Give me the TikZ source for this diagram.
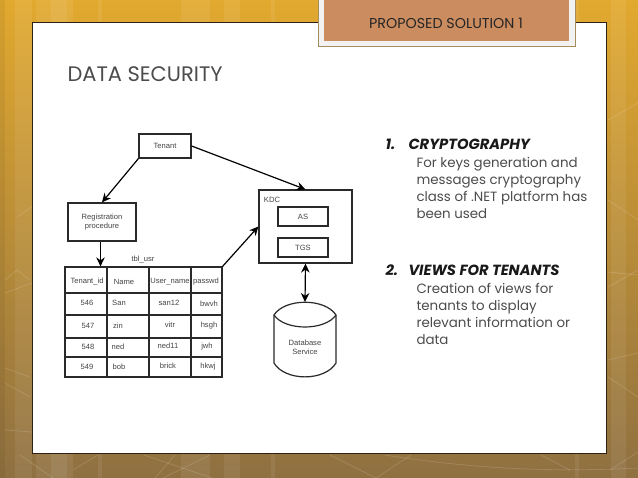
\documentclass[tikz,border=0pt]{standalone}
\usepackage{fontspec}
\usepackage{tikz}
\usetikzlibrary{positioning}
\usetikzlibrary{arrows.meta}
\setmainfont{Poppins}
\newfontfamily\diagfont{Liberation Sans}
\definecolor{slidegold}{HTML}{E2A92F}
\definecolor{slidebrown}{HTML}{8F7041}
\definecolor{slideorange}{HTML}{CB8C60}
\definecolor{slideedge}{HTML}{A58C5C}
\definecolor{inkgray}{HTML}{2A2A2A}
\definecolor{textgray}{HTML}{444444}
\tikzset{
  every picture/.style={line width=1pt},
  box/.style={draw=inkgray, line width=1.2pt, inner sep=0pt, font=\diagfont\fontsize{7.6}{9.5}\selectfont, text=textgray, align=center},
  cell/.style={inner sep=0pt, font=\diagfont\fontsize{7.6}{9}\selectfont, text=textgray},
  grid/.style={draw=inkgray, line width=1.2pt},
  link/.style={draw=black, line width=1.2pt, -{Stealth[length=9pt,width=8.5pt]}},
  bothlink/.style={draw=black, line width=1.2pt, {Stealth[length=9pt,width=8.5pt]}-{Stealth[length=9pt,width=8.5pt]}},
  stripe/.style={fill=white, fill opacity=0.07, draw=none},
  streak/.style={draw=white, draw opacity=0.14, line width=0.8pt},
  head/.style={inner sep=0pt, anchor=west, font=\fontsize{14.7}{17}\selectfont\bfseries\itshape, text=black!90},
  body/.style={inner sep=0pt, anchor=north west, align=left, font=\fontsize{13.4}{17}\selectfont, text=black!70}
}
\begin{document}
\begin{tikzpicture}[x=1pt,y=-1pt]
\useasboundingbox (0,0) rectangle (638,478);
\shade [top color=slidegold, bottom color=slidebrown] (0,0) rectangle (638,478);
\fill [black, fill opacity=0.05] (0,0) rectangle (5,478);
\fill [stripe] (15,0) rectangle (32,478);
\fill [stripe] (36,0) rectangle (73,478);
\fill [stripe] (51,0) rectangle (67,478);
\fill [stripe] (98,0) rectangle (102,478);
\fill [stripe] (181,0) rectangle (210,478);
\fill [stripe] (224,0) rectangle (240,478);
\fill [stripe] (271,0) rectangle (275,478);
\fill [stripe] (575,0) rectangle (579,478);
\fill [stripe] (611,0) rectangle (626,478);
\draw [streak] (144,455) -- (212,478);
\draw [streak] (175,455) -- (155,478);
\draw [streak] (210,455) -- (163,478);
\draw [streak] (330,455) -- (376,478) -- (411,455);
\draw [streak] (385,455) .. controls (480,470) and (560,472) .. (638,468);
\draw [streak] (541,455) -- (570,470);
\draw [streak] (638,452) -- (610,470);
\draw [streak] (20,455) -- (53,478);
\draw [streak] (98,455) -- (73,470);
\draw [streak] (17,217) -- (32,207);
\draw [streak] (5,293) -- (32,283);
\draw [streak] (5,280) -- (17,270) -- (30,280);
\draw [streak] (5,368) -- (30,377);
\draw [streak] (5,383) -- (30,397);
\draw [streak] (5,430) -- (32,432);
\draw [streak] (608,120) -- (638,103);
\draw [streak] (608,200) -- (638,220);
\draw [streak] (608,272) -- (638,275);
\draw [streak] (608,287) -- (638,270);
\draw [streak] (608,360) -- (638,353);
\draw [streak] (608,377) -- (638,397);

\node (panel) [draw=black!70!slidebrown, fill=white, minimum width=574pt, minimum height=431pt, inner sep=0pt] at (319,238.5) {};
\node (titlebox) [draw=slideedge, fill=white!95!black, minimum width=257pt, minimum height=60pt, inner sep=0pt] at (446.5,17) {};
\node (titlefill) [fill=slideorange, minimum width=245pt, minimum height=50pt, inner sep=0pt] at (446.5,16) {};
\node (titletext) [font=\fontsize{14.3}{16}\selectfont, text=black!85, inner sep=0pt] at (446,23) {PROPOSED SOLUTION 1};
\node (slidetitle) [font=\fontsize{21}{24}\selectfont, text=black!70, inner sep=0pt, anchor=west] at (67,74) {DATA SECURITY};

\node (tenant) [box, minimum width=52pt, minimum height=24pt] at (165,146) {Tenant};
\node (reg) [box, minimum width=68pt, minimum height=38pt] at (102,222) {Registration\\[-1pt]procedure};
\node (kdc) [box, minimum width=93pt, minimum height=73pt] at (305.5,226.5) {};
\node (kdclabel) [cell] at (272,200) {KDC};
\node (as) [box, minimum width=50pt, minimum height=19pt] at (303,216.5) {AS};
\node (tgs) [box, below of=as, node distance=31pt, minimum width=50pt, minimum height=19pt] {TGS};

\node (tbllabel) [cell] at (143,260) {tbl\_usr};
\node (tbl) [grid, minimum width=157pt, minimum height=110pt, inner sep=0pt] at (143.5,322) {};
\draw [grid] (107,267) -- (107,377);
\draw [grid] (149,267) -- (149,377);
\draw [grid] (191,267) -- (191,377);
\draw [grid] (65,293) -- (222,293);
\draw [grid] (64,315) -- (223,315);
\draw [grid] (64,338) -- (223,338);
\draw [grid] (64,357) -- (223,357);

\node (c11) [cell] at (87,282) {Tenant\_id};
\node (c12) [cell] at (124,282) {Name};
\node (c13) [cell] at (170,282) {User\_name};
\node (c14) [cell] at (206,282) {passwd};
\node (c21) [cell] at (87,303) {546};
\node (c22) [cell] at (119,303) {San};
\node (c23) [cell] at (169,303) {san12};
\node (c24) [cell] at (209,304) {bwvh};
\node (c31) [cell] at (88,326) {547};
\node (c32) [cell] at (118,326) {zin};
\node (c33) [cell] at (170,325) {vitr};
\node (c34) [cell] at (209,326) {hsgh};
\node (c41) [cell] at (88,347) {548};
\node (c42) [cell] at (118,347) {ned};
\node (c43) [cell] at (168,346) {ned11};
\node (c44) [cell] at (207,347) {jwh};
\node (c51) [cell] at (87,367) {549};
\node (c52) [cell] at (119,367) {bob};
\node (c53) [cell] at (168,366) {brick};
\node (c54) [cell] at (208,367) {hkwj};

\node (db) [cell, align=center] at (305,347.5) {Database\\[-0.5pt]Service};
\draw [grid] (274,315) .. controls (285,298) and (325,298) .. (336,315) -- (336,363) .. controls (325,381.5) and (285,381.5) .. (274,363) -- cycle;
\draw [grid] (274,315) .. controls (285,331) and (325,331) .. (336,315);
\coordinate (dbtop) at (305,302);

\draw [link] (tenant.south west) -- (reg.north);
\draw [link] (tenant.east) -- (kdc.north);
\draw [link] ([xshift=-1.5pt]reg.south) -- ([xshift=-1.5pt]reg.south |- tbl.north);
\draw [link] (tbl.north east) -- (kdc.west);
\draw [bothlink] (kdc.south) -- (dbtop);

\node (num1) [head] at (385,144) {1.};
\node (crypto) [head] at (408,144) {CRYPTOGRAPHY};
\node (cryptotext) [body] at (416,157) {For keys generation and\\messages cryptography\\class of .NET platform has\\been used};
\node (num2) [head] at (385,270) {2.};
\node (views) [head] at (408,270) {VIEWS FOR TENANTS};
\node (viewstext) [body] at (416,283) {Creation of views for\\tenants to display\\relevant information or\\data};
\end{tikzpicture}
\end{document}
